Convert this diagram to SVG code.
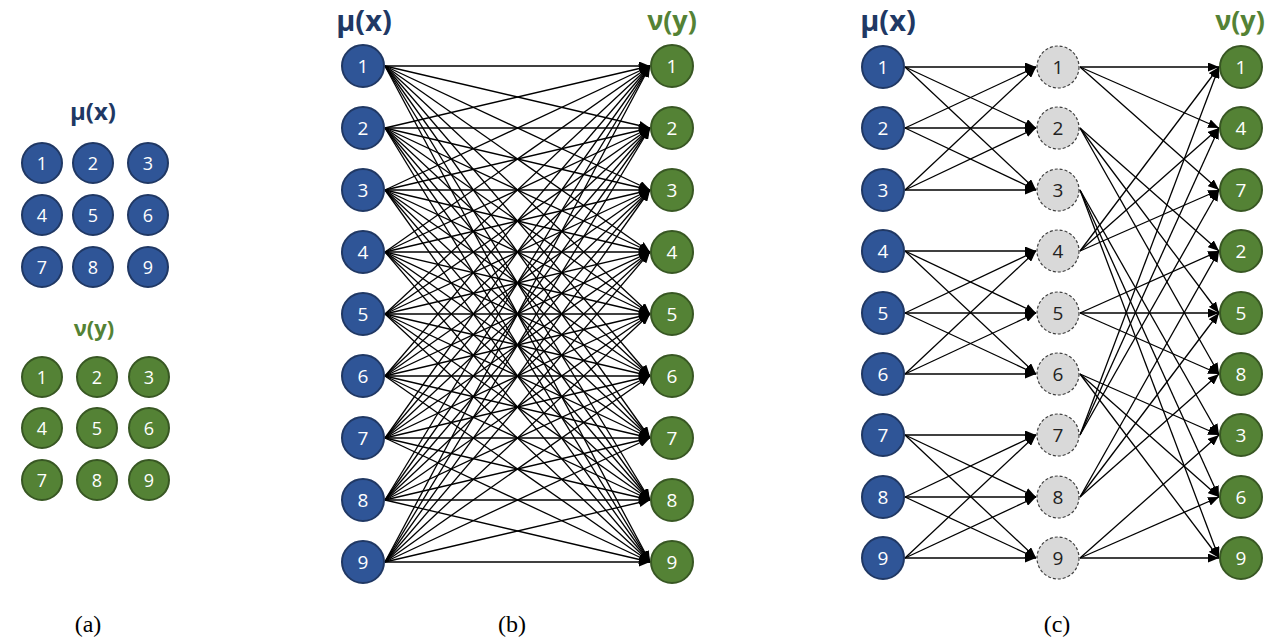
<svg xmlns="http://www.w3.org/2000/svg" width="1280" height="639" viewBox="0 0 1280 639">
<style>
.b{fill:#2F5597;stroke:#203864;stroke-width:2}
.g{fill:#548235;stroke:#385723;stroke-width:2}
.h{fill:#D9D9D9;stroke:#404040;stroke-width:1.2;stroke-dasharray:3 2}
.n{font-family:"Open Sans",Lato,sans-serif;font-size:19px;fill:#fff;text-anchor:middle;dominant-baseline:central}
.na{font-family:"Open Sans",Lato,sans-serif;font-size:18px;fill:#fff;text-anchor:middle;dominant-baseline:central}
.nh{font-family:"Open Sans",Lato,sans-serif;font-size:19px;fill:#222;text-anchor:middle;dominant-baseline:central}
.mu{font-family:"Open Sans",Lato,sans-serif;font-weight:bold;fill:#203864;text-anchor:middle}
.nu{font-family:"Open Sans",Lato,sans-serif;font-weight:bold;fill:#548235;text-anchor:middle}
.cap{font-family:"Liberation Serif",serif;font-size:24px;fill:#000;text-anchor:middle}
#edges line{stroke:#000;stroke-width:1.3;marker-end:url(#ar)}
</style>
<defs>
<marker id="ar" markerUnits="userSpaceOnUse" markerWidth="11" markerHeight="9" refX="11" refY="4.5" orient="auto">
<path d="M0,0 L11,4.5 L0,9 z" fill="#000"/>
</marker>
</defs>
<rect width="1280" height="639" fill="#fff"/>

<g id="panel-a">
<text class="mu" x="93" y="120" font-size="24">μ(x)</text>
<g id="a-mu1"><circle class="b" cx="42" cy="163" r="20"/><text class="na" x="42" y="163">1</text></g>
<g id="a-mu2"><circle class="b" cx="93" cy="163" r="20"/><text class="na" x="93" y="163">2</text></g>
<g id="a-mu3"><circle class="b" cx="148" cy="163" r="20"/><text class="na" x="148" y="163">3</text></g>
<g id="a-mu4"><circle class="b" cx="42" cy="215" r="20"/><text class="na" x="42" y="215">4</text></g>
<g id="a-mu5"><circle class="b" cx="93" cy="215" r="20"/><text class="na" x="93" y="215">5</text></g>
<g id="a-mu6"><circle class="b" cx="148" cy="215" r="20"/><text class="na" x="148" y="215">6</text></g>
<g id="a-mu7"><circle class="b" cx="42" cy="267" r="20"/><text class="na" x="42" y="267">7</text></g>
<g id="a-mu8"><circle class="b" cx="93" cy="267" r="20"/><text class="na" x="93" y="267">8</text></g>
<g id="a-mu9"><circle class="b" cx="148" cy="267" r="20"/><text class="na" x="148" y="267">9</text></g>
<text class="nu" x="94" y="336" font-size="22">ν(y)</text>
<g id="a-nu1"><circle class="g" cx="42" cy="377" r="20"/><text class="na" x="42" y="377">1</text></g>
<g id="a-nu2"><circle class="g" cx="97" cy="377" r="20"/><text class="na" x="97" y="377">2</text></g>
<g id="a-nu3"><circle class="g" cx="149" cy="377" r="20"/><text class="na" x="149" y="377">3</text></g>
<g id="a-nu4"><circle class="g" cx="42" cy="428" r="20"/><text class="na" x="42" y="428">4</text></g>
<g id="a-nu5"><circle class="g" cx="97" cy="428" r="20"/><text class="na" x="97" y="428">5</text></g>
<g id="a-nu6"><circle class="g" cx="149" cy="428" r="20"/><text class="na" x="149" y="428">6</text></g>
<g id="a-nu7"><circle class="g" cx="42" cy="480" r="20"/><text class="na" x="42" y="480">7</text></g>
<g id="a-nu8"><circle class="g" cx="97" cy="480" r="20"/><text class="na" x="97" y="480">8</text></g>
<g id="a-nu9"><circle class="g" cx="149" cy="480" r="20"/><text class="na" x="149" y="480">9</text></g>
</g>

<g id="edges">
<!-- panel b -->
<line x1="385" y1="66" x2="650" y2="66"/><line x1="385" y1="66" x2="650" y2="128"/><line x1="385" y1="66" x2="650" y2="190"/><line x1="385" y1="66" x2="650" y2="252"/><line x1="385" y1="66" x2="650" y2="314"/><line x1="385" y1="66" x2="650" y2="376"/><line x1="385" y1="66" x2="650" y2="438"/><line x1="385" y1="66" x2="650" y2="500"/><line x1="385" y1="66" x2="650" y2="562"/>
<line x1="385" y1="128" x2="650" y2="66"/><line x1="385" y1="128" x2="650" y2="128"/><line x1="385" y1="128" x2="650" y2="190"/><line x1="385" y1="128" x2="650" y2="252"/><line x1="385" y1="128" x2="650" y2="314"/><line x1="385" y1="128" x2="650" y2="376"/><line x1="385" y1="128" x2="650" y2="438"/><line x1="385" y1="128" x2="650" y2="500"/><line x1="385" y1="128" x2="650" y2="562"/>
<line x1="385" y1="190" x2="650" y2="66"/><line x1="385" y1="190" x2="650" y2="128"/><line x1="385" y1="190" x2="650" y2="190"/><line x1="385" y1="190" x2="650" y2="252"/><line x1="385" y1="190" x2="650" y2="314"/><line x1="385" y1="190" x2="650" y2="376"/><line x1="385" y1="190" x2="650" y2="438"/><line x1="385" y1="190" x2="650" y2="500"/><line x1="385" y1="190" x2="650" y2="562"/>
<line x1="385" y1="252" x2="650" y2="66"/><line x1="385" y1="252" x2="650" y2="128"/><line x1="385" y1="252" x2="650" y2="190"/><line x1="385" y1="252" x2="650" y2="252"/><line x1="385" y1="252" x2="650" y2="314"/><line x1="385" y1="252" x2="650" y2="376"/><line x1="385" y1="252" x2="650" y2="438"/><line x1="385" y1="252" x2="650" y2="500"/><line x1="385" y1="252" x2="650" y2="562"/>
<line x1="385" y1="314" x2="650" y2="66"/><line x1="385" y1="314" x2="650" y2="128"/><line x1="385" y1="314" x2="650" y2="190"/><line x1="385" y1="314" x2="650" y2="252"/><line x1="385" y1="314" x2="650" y2="314"/><line x1="385" y1="314" x2="650" y2="376"/><line x1="385" y1="314" x2="650" y2="438"/><line x1="385" y1="314" x2="650" y2="500"/><line x1="385" y1="314" x2="650" y2="562"/>
<line x1="385" y1="376" x2="650" y2="66"/><line x1="385" y1="376" x2="650" y2="128"/><line x1="385" y1="376" x2="650" y2="190"/><line x1="385" y1="376" x2="650" y2="252"/><line x1="385" y1="376" x2="650" y2="314"/><line x1="385" y1="376" x2="650" y2="376"/><line x1="385" y1="376" x2="650" y2="438"/><line x1="385" y1="376" x2="650" y2="500"/><line x1="385" y1="376" x2="650" y2="562"/>
<line x1="385" y1="438" x2="650" y2="66"/><line x1="385" y1="438" x2="650" y2="128"/><line x1="385" y1="438" x2="650" y2="190"/><line x1="385" y1="438" x2="650" y2="252"/><line x1="385" y1="438" x2="650" y2="314"/><line x1="385" y1="438" x2="650" y2="376"/><line x1="385" y1="438" x2="650" y2="438"/><line x1="385" y1="438" x2="650" y2="500"/><line x1="385" y1="438" x2="650" y2="562"/>
<line x1="385" y1="500" x2="650" y2="66"/><line x1="385" y1="500" x2="650" y2="128"/><line x1="385" y1="500" x2="650" y2="190"/><line x1="385" y1="500" x2="650" y2="252"/><line x1="385" y1="500" x2="650" y2="314"/><line x1="385" y1="500" x2="650" y2="376"/><line x1="385" y1="500" x2="650" y2="438"/><line x1="385" y1="500" x2="650" y2="500"/><line x1="385" y1="500" x2="650" y2="562"/>
<line x1="385" y1="562" x2="650" y2="66"/><line x1="385" y1="562" x2="650" y2="128"/><line x1="385" y1="562" x2="650" y2="190"/><line x1="385" y1="562" x2="650" y2="252"/><line x1="385" y1="562" x2="650" y2="314"/><line x1="385" y1="562" x2="650" y2="376"/><line x1="385" y1="562" x2="650" y2="438"/><line x1="385" y1="562" x2="650" y2="500"/><line x1="385" y1="562" x2="650" y2="562"/>
<!-- panel c: left to hidden -->
<line x1="905" y1="67" x2="1036" y2="67"/><line x1="905" y1="67" x2="1036" y2="128"/><line x1="905" y1="67" x2="1036" y2="190"/>
<line x1="905" y1="128" x2="1036" y2="67"/><line x1="905" y1="128" x2="1036" y2="128"/><line x1="905" y1="128" x2="1036" y2="190"/>
<line x1="905" y1="190" x2="1036" y2="67"/><line x1="905" y1="190" x2="1036" y2="128"/><line x1="905" y1="190" x2="1036" y2="190"/>
<line x1="905" y1="251" x2="1036" y2="251"/><line x1="905" y1="251" x2="1036" y2="313"/><line x1="905" y1="251" x2="1036" y2="374"/>
<line x1="905" y1="313" x2="1036" y2="251"/><line x1="905" y1="313" x2="1036" y2="313"/><line x1="905" y1="313" x2="1036" y2="374"/>
<line x1="905" y1="374" x2="1036" y2="251"/><line x1="905" y1="374" x2="1036" y2="313"/><line x1="905" y1="374" x2="1036" y2="374"/>
<line x1="905" y1="435" x2="1036" y2="435"/><line x1="905" y1="435" x2="1036" y2="497"/><line x1="905" y1="435" x2="1036" y2="558"/>
<line x1="905" y1="497" x2="1036" y2="435"/><line x1="905" y1="497" x2="1036" y2="497"/><line x1="905" y1="497" x2="1036" y2="558"/>
<line x1="905" y1="558" x2="1036" y2="435"/><line x1="905" y1="558" x2="1036" y2="497"/><line x1="905" y1="558" x2="1036" y2="558"/>
<!-- panel c: hidden to right -->
<line x1="1080" y1="67" x2="1219" y2="67"/><line x1="1080" y1="67" x2="1219" y2="128"/><line x1="1080" y1="67" x2="1219" y2="190"/>
<line x1="1080" y1="128" x2="1219" y2="251"/><line x1="1080" y1="128" x2="1219" y2="313"/><line x1="1080" y1="128" x2="1219" y2="374"/>
<line x1="1080" y1="190" x2="1219" y2="435"/><line x1="1080" y1="190" x2="1219" y2="497"/><line x1="1080" y1="190" x2="1219" y2="558"/>
<line x1="1080" y1="251" x2="1219" y2="67"/><line x1="1080" y1="251" x2="1219" y2="128"/><line x1="1080" y1="251" x2="1219" y2="190"/>
<line x1="1080" y1="313" x2="1219" y2="251"/><line x1="1080" y1="313" x2="1219" y2="313"/><line x1="1080" y1="313" x2="1219" y2="374"/>
<line x1="1080" y1="374" x2="1219" y2="435"/><line x1="1080" y1="374" x2="1219" y2="497"/><line x1="1080" y1="374" x2="1219" y2="558"/>
<line x1="1080" y1="435" x2="1219" y2="67"/><line x1="1080" y1="435" x2="1219" y2="128"/><line x1="1080" y1="435" x2="1219" y2="190"/>
<line x1="1080" y1="497" x2="1219" y2="251"/><line x1="1080" y1="497" x2="1219" y2="313"/><line x1="1080" y1="497" x2="1219" y2="374"/>
<line x1="1080" y1="558" x2="1219" y2="435"/><line x1="1080" y1="558" x2="1219" y2="497"/><line x1="1080" y1="558" x2="1219" y2="558"/>
</g>

<g id="panel-b">
<text class="mu" x="364" y="31" font-size="29">μ(x)</text>
<text class="nu" x="672" y="30" font-size="27">ν(y)</text>
<g id="b-mu1"><circle class="b" cx="363" cy="66" r="21"/><text class="n" x="363" y="66">1</text></g>
<g id="b-mu2"><circle class="b" cx="363" cy="128" r="21"/><text class="n" x="363" y="128">2</text></g>
<g id="b-mu3"><circle class="b" cx="363" cy="190" r="21"/><text class="n" x="363" y="190">3</text></g>
<g id="b-mu4"><circle class="b" cx="363" cy="252" r="21"/><text class="n" x="363" y="252">4</text></g>
<g id="b-mu5"><circle class="b" cx="363" cy="314" r="21"/><text class="n" x="363" y="314">5</text></g>
<g id="b-mu6"><circle class="b" cx="363" cy="376" r="21"/><text class="n" x="363" y="376">6</text></g>
<g id="b-mu7"><circle class="b" cx="363" cy="438" r="21"/><text class="n" x="363" y="438">7</text></g>
<g id="b-mu8"><circle class="b" cx="363" cy="500" r="21"/><text class="n" x="363" y="500">8</text></g>
<g id="b-mu9"><circle class="b" cx="363" cy="562" r="21"/><text class="n" x="363" y="562">9</text></g>
<g id="b-nu1"><circle class="g" cx="672" cy="66" r="21"/><text class="n" x="672" y="66">1</text></g>
<g id="b-nu2"><circle class="g" cx="672" cy="128" r="21"/><text class="n" x="672" y="128">2</text></g>
<g id="b-nu3"><circle class="g" cx="672" cy="190" r="21"/><text class="n" x="672" y="190">3</text></g>
<g id="b-nu4"><circle class="g" cx="672" cy="252" r="21"/><text class="n" x="672" y="252">4</text></g>
<g id="b-nu5"><circle class="g" cx="672" cy="314" r="21"/><text class="n" x="672" y="314">5</text></g>
<g id="b-nu6"><circle class="g" cx="672" cy="376" r="21"/><text class="n" x="672" y="376">6</text></g>
<g id="b-nu7"><circle class="g" cx="672" cy="438" r="21"/><text class="n" x="672" y="438">7</text></g>
<g id="b-nu8"><circle class="g" cx="672" cy="500" r="21"/><text class="n" x="672" y="500">8</text></g>
<g id="b-nu9"><circle class="g" cx="672" cy="562" r="21"/><text class="n" x="672" y="562">9</text></g>
</g>

<g id="panel-c">
<text class="mu" x="888" y="31" font-size="29">μ(x)</text>
<text class="nu" x="1240" y="30" font-size="27">ν(y)</text>
<g id="c-mu1"><circle class="b" cx="883" cy="67" r="21"/><text class="n" x="883" y="67">1</text></g>
<g id="c-mu2"><circle class="b" cx="883" cy="128" r="21"/><text class="n" x="883" y="128">2</text></g>
<g id="c-mu3"><circle class="b" cx="883" cy="190" r="21"/><text class="n" x="883" y="190">3</text></g>
<g id="c-mu4"><circle class="b" cx="883" cy="251" r="21"/><text class="n" x="883" y="251">4</text></g>
<g id="c-mu5"><circle class="b" cx="883" cy="313" r="21"/><text class="n" x="883" y="313">5</text></g>
<g id="c-mu6"><circle class="b" cx="883" cy="374" r="21"/><text class="n" x="883" y="374">6</text></g>
<g id="c-mu7"><circle class="b" cx="883" cy="435" r="21"/><text class="n" x="883" y="435">7</text></g>
<g id="c-mu8"><circle class="b" cx="883" cy="497" r="21"/><text class="n" x="883" y="497">8</text></g>
<g id="c-mu9"><circle class="b" cx="883" cy="558" r="21"/><text class="n" x="883" y="558">9</text></g>
<g id="c-h1"><circle class="h" cx="1058" cy="67" r="21"/><text class="nh" x="1058" y="67">1</text></g>
<g id="c-h2"><circle class="h" cx="1058" cy="128" r="21"/><text class="nh" x="1058" y="128">2</text></g>
<g id="c-h3"><circle class="h" cx="1058" cy="190" r="21"/><text class="nh" x="1058" y="190">3</text></g>
<g id="c-h4"><circle class="h" cx="1058" cy="251" r="21"/><text class="nh" x="1058" y="251">4</text></g>
<g id="c-h5"><circle class="h" cx="1058" cy="313" r="21"/><text class="nh" x="1058" y="313">5</text></g>
<g id="c-h6"><circle class="h" cx="1058" cy="374" r="21"/><text class="nh" x="1058" y="374">6</text></g>
<g id="c-h7"><circle class="h" cx="1058" cy="435" r="21"/><text class="nh" x="1058" y="435">7</text></g>
<g id="c-h8"><circle class="h" cx="1058" cy="497" r="21"/><text class="nh" x="1058" y="497">8</text></g>
<g id="c-h9"><circle class="h" cx="1058" cy="558" r="21"/><text class="nh" x="1058" y="558">9</text></g>
<g id="c-nu1"><circle class="g" cx="1241" cy="67" r="21"/><text class="n" x="1241" y="67">1</text></g>
<g id="c-nu4"><circle class="g" cx="1241" cy="128" r="21"/><text class="n" x="1241" y="128">4</text></g>
<g id="c-nu7"><circle class="g" cx="1241" cy="190" r="21"/><text class="n" x="1241" y="190">7</text></g>
<g id="c-nu2"><circle class="g" cx="1241" cy="251" r="21"/><text class="n" x="1241" y="251">2</text></g>
<g id="c-nu5"><circle class="g" cx="1241" cy="313" r="21"/><text class="n" x="1241" y="313">5</text></g>
<g id="c-nu8"><circle class="g" cx="1241" cy="374" r="21"/><text class="n" x="1241" y="374">8</text></g>
<g id="c-nu3"><circle class="g" cx="1241" cy="435" r="21"/><text class="n" x="1241" y="435">3</text></g>
<g id="c-nu6"><circle class="g" cx="1241" cy="497" r="21"/><text class="n" x="1241" y="497">6</text></g>
<g id="c-nu9"><circle class="g" cx="1241" cy="558" r="21"/><text class="n" x="1241" y="558">9</text></g>
</g>

<g id="captions">
<text class="cap" x="88" y="632">(a)</text>
<text class="cap" x="512" y="632">(b)</text>
<text class="cap" x="1057" y="632">(c)</text>
</g>
</svg>
